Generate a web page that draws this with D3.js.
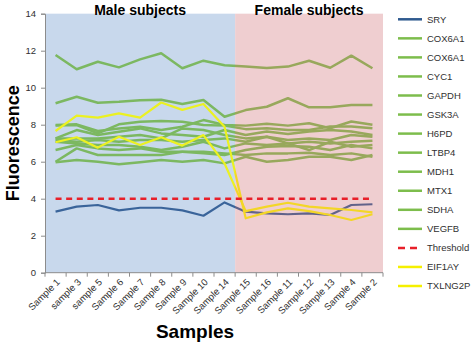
<!DOCTYPE html>
<html>
<head>
<meta charset="utf-8">
<script src="https://cdn.jsdelivr.net/npm/d3@7"></script>
<style>
  body { margin: 0; background: #fff; }
  svg { display: block; font-family: "Liberation Sans", Arial, sans-serif; }
</style>
</head>
<body>
<svg id="chart" width="474" height="348"></svg>
<script>
// Подписи образцов по оси X
const samples = ["Sample 1", "sample 3", "sample 5", "Sample 6", "Sample 7", "Sample 8", "Sample 9",
  "Sample 10", "Sample 14", "Sample 15", "Sample 16", "Sample 11", "Sample 12", "Sample 13",
  "Sample 4", "Sample 2"];
const maleCount = 9;
const yTicks = [0, 2, 4, 6, 8, 10, 12, 14];

// Значения флуоресценции по генам
const SRY     = [3.30, 3.57, 3.66, 3.37, 3.51, 3.51, 3.37, 3.08, 3.80, 3.30, 3.21, 3.16, 3.21, 3.12, 3.66, 3.70];
const COX6A1a = [11.77, 11.0, 11.4, 11.1, 11.53, 11.86, 11.05, 11.46, 11.21, 11.14, 11.07, 11.14, 11.46, 11.08, 11.73, 11.05];
const COX6A1b = [9.16, 9.51, 9.19, 9.24, 9.32, 9.35, 9.12, 9.34, 8.43, 8.79, 8.97, 9.43, 8.94, 8.94, 9.06, 9.06];
const CYC1    = [7.98, 8.02, 7.66, 7.80, 7.89, 7.71, 7.89, 8.25, 7.98, 7.95, 8.05, 7.95, 8.08, 7.81, 8.17, 8.00];
const GAPDH   = [7.95, 7.98, 7.53, 8.02, 8.16, 8.20, 8.16, 7.98, 7.95, 7.76, 7.81, 7.72, 7.72, 7.90, 7.90, 7.81];
const GSK3A   = [7.26, 7.71, 7.44, 7.62, 7.80, 7.53, 7.44, 7.35, 7.71, 7.44, 7.63, 7.50, 7.63, 7.72, 7.63, 7.44];
const H6PD    = [7.26, 7.26, 7.26, 7.35, 7.44, 7.26, 7.80, 7.71, 7.44, 7.26, 7.35, 7.17, 7.26, 7.17, 7.44, 7.35];
const LTBP4   = [7.17, 7.08, 7.17, 7.08, 7.17, 7.17, 7.08, 7.17, 7.26, 7.08, 7.35, 6.99, 6.63, 7.08, 6.81, 6.90];
const MDH1    = [7.08, 6.99, 6.90, 6.90, 6.81, 6.63, 6.81, 7.08, 6.72, 6.99, 6.90, 6.99, 7.08, 6.99, 7.08, 7.13];
const MTX1    = [6.63, 6.90, 6.72, 6.63, 6.72, 6.54, 6.54, 6.45, 6.36, 6.63, 6.81, 6.85, 6.81, 6.63, 6.90, 6.72];
const SDHA    = [6.00, 6.72, 6.36, 6.36, 6.36, 6.36, 6.54, 6.54, 6.45, 6.36, 6.45, 6.45, 6.49, 6.36, 6.45, 6.27];
const VEGFB   = [5.97, 6.09, 6.00, 5.86, 5.97, 6.09, 6.00, 6.09, 5.91, 6.27, 6.00, 6.09, 6.27, 6.27, 6.09, 6.36];
const Threshold = samples.map(() => 4);
const EIF1AY  = [7.66, 8.49, 8.38, 8.61, 8.38, 9.20, 8.80, 9.12, 7.89, 2.94, 3.26, 3.48, 3.33, 3.12, 2.85, 3.16];
const TXLNG2P = [7.05, 7.32, 6.76, 7.35, 6.90, 7.32, 6.87, 7.44, 5.90, 3.33, 3.57, 3.78, 3.57, 3.48, 3.39, 3.26];

const green = "#7dbd4c", yellow = "#ffff00";
const series = [
  { name: "SRY", values: SRY, color: "#2f5a8f", w: 2.2 },
  { name: "COX6A1", values: COX6A1a, color: green, w: 2.5 },
  { name: "COX6A1", values: COX6A1b, color: green, w: 2.5 },
  { name: "CYC1", values: CYC1, color: green, w: 2.5 },
  { name: "GAPDH", values: GAPDH, color: green, w: 2.5 },
  { name: "GSK3A", values: GSK3A, color: green, w: 2.5 },
  { name: "H6PD", values: H6PD, color: green, w: 2.5 },
  { name: "LTBP4", values: LTBP4, color: green, w: 2.5 },
  { name: "MDH1", values: MDH1, color: green, w: 2.5 },
  { name: "MTX1", values: MTX1, color: green, w: 2.5 },
  { name: "SDHA", values: SDHA, color: green, w: 2.5 },
  { name: "VEGFB", values: VEGFB, color: green, w: 2.5 },
  { name: "Threshold", values: Threshold, color: "#e8202a", w: 2.5, dash: "6,4.6" },
  { name: "EIF1AY", values: EIF1AY, color: yellow, w: 2.2 },
  { name: "TXLNG2P", values: TXLNG2P, color: yellow, w: 2.2 }
];

const svg = d3.select("#chart");
const plotLeft = 45, plotRight = 383, plotTop = 13.7, plotBottom = 272.7;

const x = d3.scaleBand().domain(samples).range([plotLeft, plotRight]);
const y = d3.scaleLinear().domain([0, 14]).range([plotBottom, plotTop]);

const maleEnd = x(samples[maleCount]);

// Фоновые области (мужчины / женщины)
svg.append("rect").attr("x", plotLeft).attr("y", plotTop).attr("width", maleEnd - plotLeft)
  .attr("height", plotBottom - plotTop).attr("fill", "#d6e2ef");
svg.append("rect").attr("x", maleEnd).attr("y", plotTop).attr("width", plotRight - maleEnd)
  .attr("height", plotBottom - plotTop).attr("fill", "#f9f4f3");

const line = d3.line()
  .x((d, i) => x(samples[i]) + x.bandwidth() / 2)
  .y(d => y(d));

// Линии генов (кроме порога)
svg.append("g").selectAll("path")
  .data(series.filter(s => s.name !== "Threshold"))
  .join("path")
  .attr("d", d => line(d.values))
  .attr("fill", "none")
  .attr("stroke", d => d.color)
  .attr("stroke-width", d => d.w)
  .attr("stroke-linejoin", "round");

// Полупрозрачная заливка поверх линий
svg.append("rect").attr("x", plotLeft).attr("y", plotTop).attr("width", maleEnd - plotLeft)
  .attr("height", plotBottom - plotTop).attr("fill", "#7aa0dc").attr("opacity", 0.15);
svg.append("rect").attr("x", maleEnd).attr("y", plotTop).attr("width", plotRight - maleEnd)
  .attr("height", plotBottom - plotTop).attr("fill", "#d77882").attr("opacity", 0.3);

// Пороговая линия
const thr = series.find(s => s.name === "Threshold");
svg.append("path")
  .attr("d", line(thr.values))
  .attr("fill", "none")
  .attr("stroke", thr.color)
  .attr("stroke-width", thr.w)
  .attr("stroke-dasharray", thr.dash);

// Ось Y
const yAxis = svg.append("g")
  .attr("transform", `translate(${plotLeft},0)`)
  .call(d3.axisLeft(y).tickValues(yTicks).tickSize(4).tickPadding(5));
yAxis.select(".domain").attr("stroke", "#8c8c8c");
yAxis.selectAll(".tick line").attr("stroke", "#8c8c8c");
yAxis.selectAll(".tick text").attr("font-size", 9.5).attr("fill", "#303030")
  .attr("font-family", "Liberation Sans, Arial, sans-serif");

// Ось X: линия, засечки на границах категорий, подписи под углом
const xg = svg.append("g");
xg.append("line").attr("x1", plotLeft).attr("x2", plotRight).attr("y1", plotBottom).attr("y2", plotBottom)
  .attr("stroke", "#8c8c8c");
xg.selectAll("line.tick")
  .data(samples.map(s => x(s)).concat([plotRight]))
  .join("line")
  .attr("class", "tick")
  .attr("x1", d => d).attr("x2", d => d)
  .attr("y1", plotBottom).attr("y2", plotBottom + 4)
  .attr("stroke", "#8c8c8c");
xg.selectAll("text")
  .data(samples)
  .join("text")
  .attr("transform", d => `translate(${x(d) + x.bandwidth() / 2 + 5},${plotBottom + 10}) rotate(-45)`)
  .attr("text-anchor", "end")
  .attr("font-size", 9.5)
  .attr("fill", "#303030")
  .text(d => d);

// Заголовки групп
svg.append("text").attr("x", (plotLeft + maleEnd) / 2).attr("y", 15)
  .attr("text-anchor", "middle").attr("font-weight", "bold").attr("font-size", 14)
  .attr("fill", "#000").text("Male subjects");
svg.append("text").attr("x", (maleEnd + plotRight) / 2).attr("y", 15)
  .attr("text-anchor", "middle").attr("font-weight", "bold").attr("font-size", 14)
  .attr("fill", "#000").text("Female subjects");

// Подписи осей
svg.append("text")
  .attr("transform", `translate(19,${(plotTop + plotBottom) / 2}) rotate(-90)`)
  .attr("text-anchor", "middle").attr("font-weight", "bold").attr("font-size", 18)
  .text("Fluorescence");
svg.append("text").attr("x", 195).attr("y", 338)
  .attr("text-anchor", "middle").attr("font-weight", "bold").attr("font-size", 19)
  .text("Samples");

// Легенда
const legend = svg.append("g").selectAll("g")
  .data(series)
  .join("g")
  .attr("transform", (d, i) => `translate(398,${19.3 + i * 19.05})`);
legend.append("line")
  .attr("x1", 0).attr("x2", 24)
  .attr("stroke", d => d.color === yellow ? "#f5f000" : d.color)
  .attr("stroke-width", 2.5)
  .attr("stroke-dasharray", d => d.dash ? "7,5" : null);
legend.append("text")
  .attr("x", 29).attr("dy", "0.35em")
  .attr("font-size", 9.5).attr("fill", "#303030")
  .text(d => d.name);
</script>
</body>
</html>
